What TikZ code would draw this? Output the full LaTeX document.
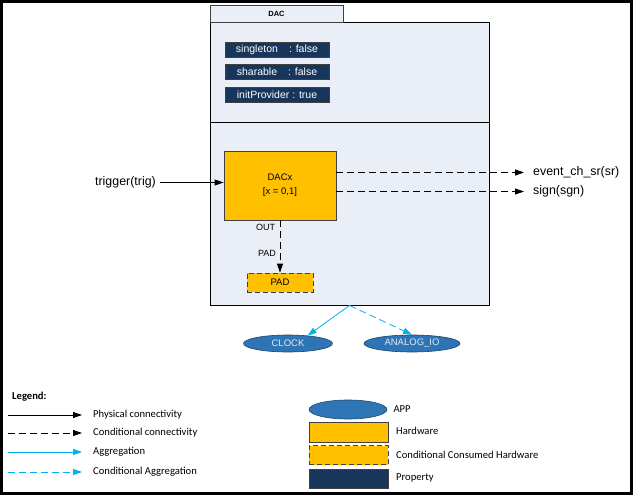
\documentclass[tikz,border=0pt]{standalone}
\usepackage{fontspec}
\setmainfont{Liberation Sans}
\newfontfamily\legendfont{Carlito}
\definecolor{panelbg}{RGB}{233, 238, 247}
\definecolor{propnavy}{RGB}{24, 54, 92}
\definecolor{hwgold}{RGB}{255, 192, 0}
\definecolor{appblue}{RGB}{46, 117, 182}
\definecolor{aggcyan}{RGB}{0, 176, 240}
\definecolor{edgegray}{RGB}{64, 64, 64}
\usetikzlibrary{arrows.meta, positioning, shapes.geometric, calc}
\tikzset{
	panel/.style={rectangle, draw=black, fill=panelbg, line width=0.9pt, minimum width=279pt, minimum height=283pt},
	tabbox/.style={rectangle, draw=edgegray, fill=panelbg, line width=0.9pt, minimum width=133pt, minimum height=17pt, font=\bfseries\fontsize{7.5}{9}\selectfont},
	prop/.style={rectangle, draw=black!75, fill=propnavy, text=white, line width=0.6pt, minimum width=104pt, minimum height=15pt, inner sep=0pt, font=\fontsize{10.5}{12}\selectfont},
	hw/.style={rectangle, draw=edgegray, fill=hwgold, line width=0.8pt, align=center, inner sep=0pt, font=\fontsize{9.5}{14}\selectfont},
	condhw/.style={hw, dash pattern=on 5pt off 3pt},
	app/.style={ellipse, draw=appblue!60!black, fill=appblue, text=white!85!appblue, line width=0.6pt, inner sep=0pt, font=\fontsize{9.5}{11}\selectfont},
	sigtext/.style={inner ysep=0pt, inner xsep=4pt, font=\fontsize{12.4}{14}\selectfont},
	outsig/.style={sigtext, anchor=west, inner xsep=9pt},
	pintext/.style={inner sep=0pt, font=\fontsize{9}{11}\selectfont},
	legtext/.style={anchor=west, inner sep=0pt, font=\legendfont\fontsize{10.6}{12}\selectfont},
	phys/.style={-{Triangle[length=9pt, width=6pt]}, line width=0.8pt, draw=black},
	cond/.style={phys, dash pattern=on 7pt off 4pt},
	agg/.style={-{Triangle[length=9pt, width=6pt]}, line width=0.8pt, draw=aggcyan},
	condagg/.style={agg, dash pattern=on 7pt off 4pt},
}
\begin{document}
\begin{tikzpicture}[x=1pt, y=-1pt, node distance=7pt]
		\useasboundingbox (0,0) rectangle (633,495);
		\draw[line width=3pt] (1.5,1.5) rectangle (631.5,493.5);
		% DAC container
		\node[panel] (dacbox) at (349.5,163.5) {};
		\node[tabbox] (dactab) at (276.5,13.5) {DAC};
		\coordinate (split) at (0,122);
		\draw[line width=0.9pt] (dacbox.west |- split) -- (dacbox.east |- split);
		\node[prop] (single) at (277,49.5) {singleton\hspace{11pt}: false};
		\node[prop, below=of single] (share) {sharable\hspace{11pt}: false};
		\node[prop, below=of share] (init) {initProvider : true};
		% hardware
		\node[hw, minimum width=112pt, minimum height=69pt] (dacx) at (280,185.5) {DACx\\{}[x = 0,1]};
		\node[condhw, minimum width=66pt, minimum height=19pt] (pad) at (280,282.5) {PAD};
		\node[pintext] (outpin) at (265.5,227.5) {OUT};
		\node[pintext] (padpin) at (267,253) {PAD};
		% signals
		\node[sigtext, anchor=east] (trig) at (160,182.5) {trigger(trig)};
		\node[outsig] (evt) at (524,172.5) {event\_ch\_sr(sr)};
		\node[outsig] (sgn) at (524,191.5) {sign(sgn)};
		\draw[phys] (trig.east) -- (trig.east -| dacx.west);
		\draw[cond] (dacx.east |- evt.west) -- (evt.west);
		\draw[cond] (dacx.east |- sgn.west) -- (sgn.west);
		\draw[cond] (dacx.south) -- (pad.north);
		% apps
		\node[app, minimum width=89pt, minimum height=17pt] (clock) at (288,343.5) {CLOCK};
		\node[app, minimum width=96pt, minimum height=17pt] (analog) at (412,343.5) {ANALOG\_IO};
		\draw[agg] (dacbox.south) -- (clock.22);
		\draw[condagg] (dacbox.south) -- (analog.north);
		% legend
		\node[legtext, font=\legendfont\bfseries\fontsize{10.6}{12}\selectfont] (legend) at (12,397) {Legend:};
		\foreach \y/\sty/\name/\txt in {415/phys/lphys/Physical connectivity, 433/cond/lcond/Conditional connectivity, 452/agg/lagg/Aggregation, 472/condagg/lcagg/Conditional Aggregation} {
			\coordinate (\name s) at (8,\y);
			\node[legtext] (\name) at (93,\y) {\txt};
			\draw[\sty] (\name s) -- ([xshift=-11pt]\name.west);
		}
		\node[app, minimum width=78pt, minimum height=19pt] (lapp) at (348,409.5) {};
		\node[legtext, right=6pt of lapp] (lapptxt) {APP};
		\node[hw, minimum width=79pt, minimum height=20pt] (lhw) at (348.5,432) {};
		\node[legtext] (lhwtxt) at (396,431) {Hardware};
		\node[condhw, minimum width=79pt, minimum height=19pt] (lchw) at (348.5,455) {};
		\node[legtext] (lchwtxt) at (396,455) {Conditional Consumed Hardware};
		\node[prop, minimum width=79pt, minimum height=19pt] (lprop) at (348.5,478.5) {};
		\node[legtext] (lproptxt) at (396,478) {Property};
	\end{tikzpicture}
\end{document}
